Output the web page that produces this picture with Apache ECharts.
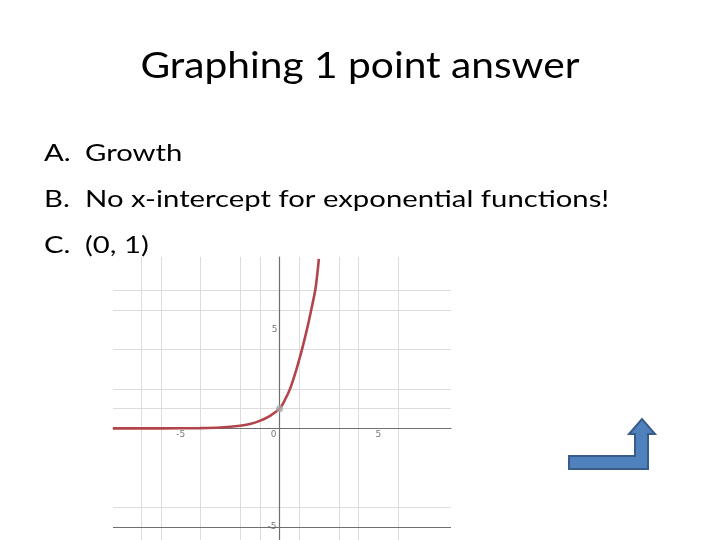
<!DOCTYPE html>
<html>
<head>
<meta charset="utf-8">
<script src="https://cdn.jsdelivr.net/npm/echarts@6/dist/echarts.min.js"></script>
<style>
html,body{margin:0;padding:0;background:#fff;}
#c{width:720px;height:540px;}
</style>
</head>
<body>
<div id="c"></div>
<script>
// Values
var curveX = [-8.42, -6, -4, -3, -2, -1.5, -1, -0.5, 0, 0.25, 0.54, 0.87, 1.15, 1.40, 1.62, 1.82, 1.99];
var curveY = [0, 0, 0.01, 0.04, 0.13, 0.22, 0.38, 0.62, 1, 1.4, 2.03, 3.05, 4.06, 5.08, 6.1, 7.1, 8.6];
var pointXY = [0, 1];
var gridX = [-7, -6, -4, -2, -1, 1, 3, 4, 6];
var gridY = [7, 6, 4, 2, 1, -4];
var darkY = [-5];
var xTickLabels = [-5, 0, 5];
var yTickLabels = [5, -5];
var titleText = 'Graphing 1 point answer';
var listMarks = ['A.', 'B.', 'C.'];
var listTexts = ['Growth', 'No x-intercept for exponential functions!', '(0, 1)'];

var chart = echarts.init(document.getElementById('c'));
var fontFam = 'Lato, "Open Sans", sans-serif';

var curveData = curveX.map(function (x, i) { return [x, curveY[i]]; });

var gridLines = gridX.map(function (v) { return { xAxis: v }; })
  .concat(gridY.map(function (v) { return { yAxis: v }; }))
  .concat(darkY.map(function (v) { return { yAxis: v, lineStyle: { color: '#6f6f6f', width: 1.2 } }; }));

// tick labels drawn at data coordinates through the axes
var tickLabelData = xTickLabels.map(function (v) {
  return {
    value: [v, 0],
    label: { formatter: String(v), position: 'bottom', distance: 2, offset: v === 0 ? [-6, 0] : [0, 0] }
  };
}).concat(yTickLabels.map(function (v) {
  return {
    value: [0, v],
    label: { formatter: String(v), position: 'left', distance: 2, offset: v < 0 ? [-1, 0] : [0, 0] }
  };
}));

var graphics = [];
graphics.push({
  type: 'text', x: 360, y: 48, scaleX: 1.13,
  style: { text: titleText, font: '36px ' + fontFam, fill: '#000', align: 'center', verticalAlign: 'top' }
});
listMarks.forEach(function (m, i) {
  graphics.push({ type: 'text', x: 44, y: 141 + i * 46, scaleX: 1.22,
    style: { text: m, font: '24px ' + fontFam, fill: '#000', verticalAlign: 'top' } });
  graphics.push({ type: 'text', x: 85, y: 141 + i * 46, scaleX: 1.22,
    style: { text: listTexts[i], font: '24px ' + fontFam, fill: '#000', verticalAlign: 'top' } });
});
graphics.push({
  type: 'polygon',
  shape: { points: [[569,456],[635,456],[635,434],[629,434],[642,419],[655,434],[648,434],[648,469],[569,469]] },
  style: { fill: '#4f81bd', stroke: '#385d8a', lineWidth: 2 }
});

chart.setOption({
  animation: false,
  backgroundColor: '#fff',
  graphic: graphics,
  grid: { left: 113, right: 269, top: 257, bottom: 0, containLabel: false, outerBoundsMode: 'none' },
  xAxis: {
    type: 'value', min: -8.42, max: 8.67, splitNumber: 3, z: 5,
    axisLine: { onZero: true, lineStyle: { color: '#6f6f6f', width: 1.2 } },
    axisTick: { show: false },
    splitLine: { show: false },
    axisLabel: { show: false }
  },
  yAxis: {
    type: 'value', min: -5.67, max: 8.7, splitNumber: 3, z: 5,
    axisLine: { onZero: true, lineStyle: { color: '#6f6f6f', width: 1.2 } },
    axisTick: { show: false },
    splitLine: { show: false },
    axisLabel: { show: false }
  },
  series: [
    {
      type: 'line', z: 1, silent: true, data: curveData, symbol: 'none',
      lineStyle: { opacity: 0 },
      markLine: {
        silent: true, symbol: 'none', label: { show: false },
        lineStyle: { color: '#dcdcdc', width: 1, type: 'solid' },
        data: gridLines
      }
    },
    {
      type: 'line', z: 10, data: curveData, smooth: 0.3, symbol: 'none',
      lineStyle: { color: '#b2454b', width: 2.6 }
    },
    {
      type: 'scatter', z: 11, data: [pointXY], symbol: 'circle', symbolSize: 7,
      itemStyle: { color: '#a9a9a9' }
    },
    {
      type: 'scatter', z: 12, silent: true, symbolSize: 0, data: tickLabelData,
      itemStyle: { color: 'rgba(0,0,0,0)' },
      label: { show: true, fontSize: 9, color: '#555', fontFamily: 'DejaVu Sans' }
    }
  ]
});
</script>
</body>
</html>
